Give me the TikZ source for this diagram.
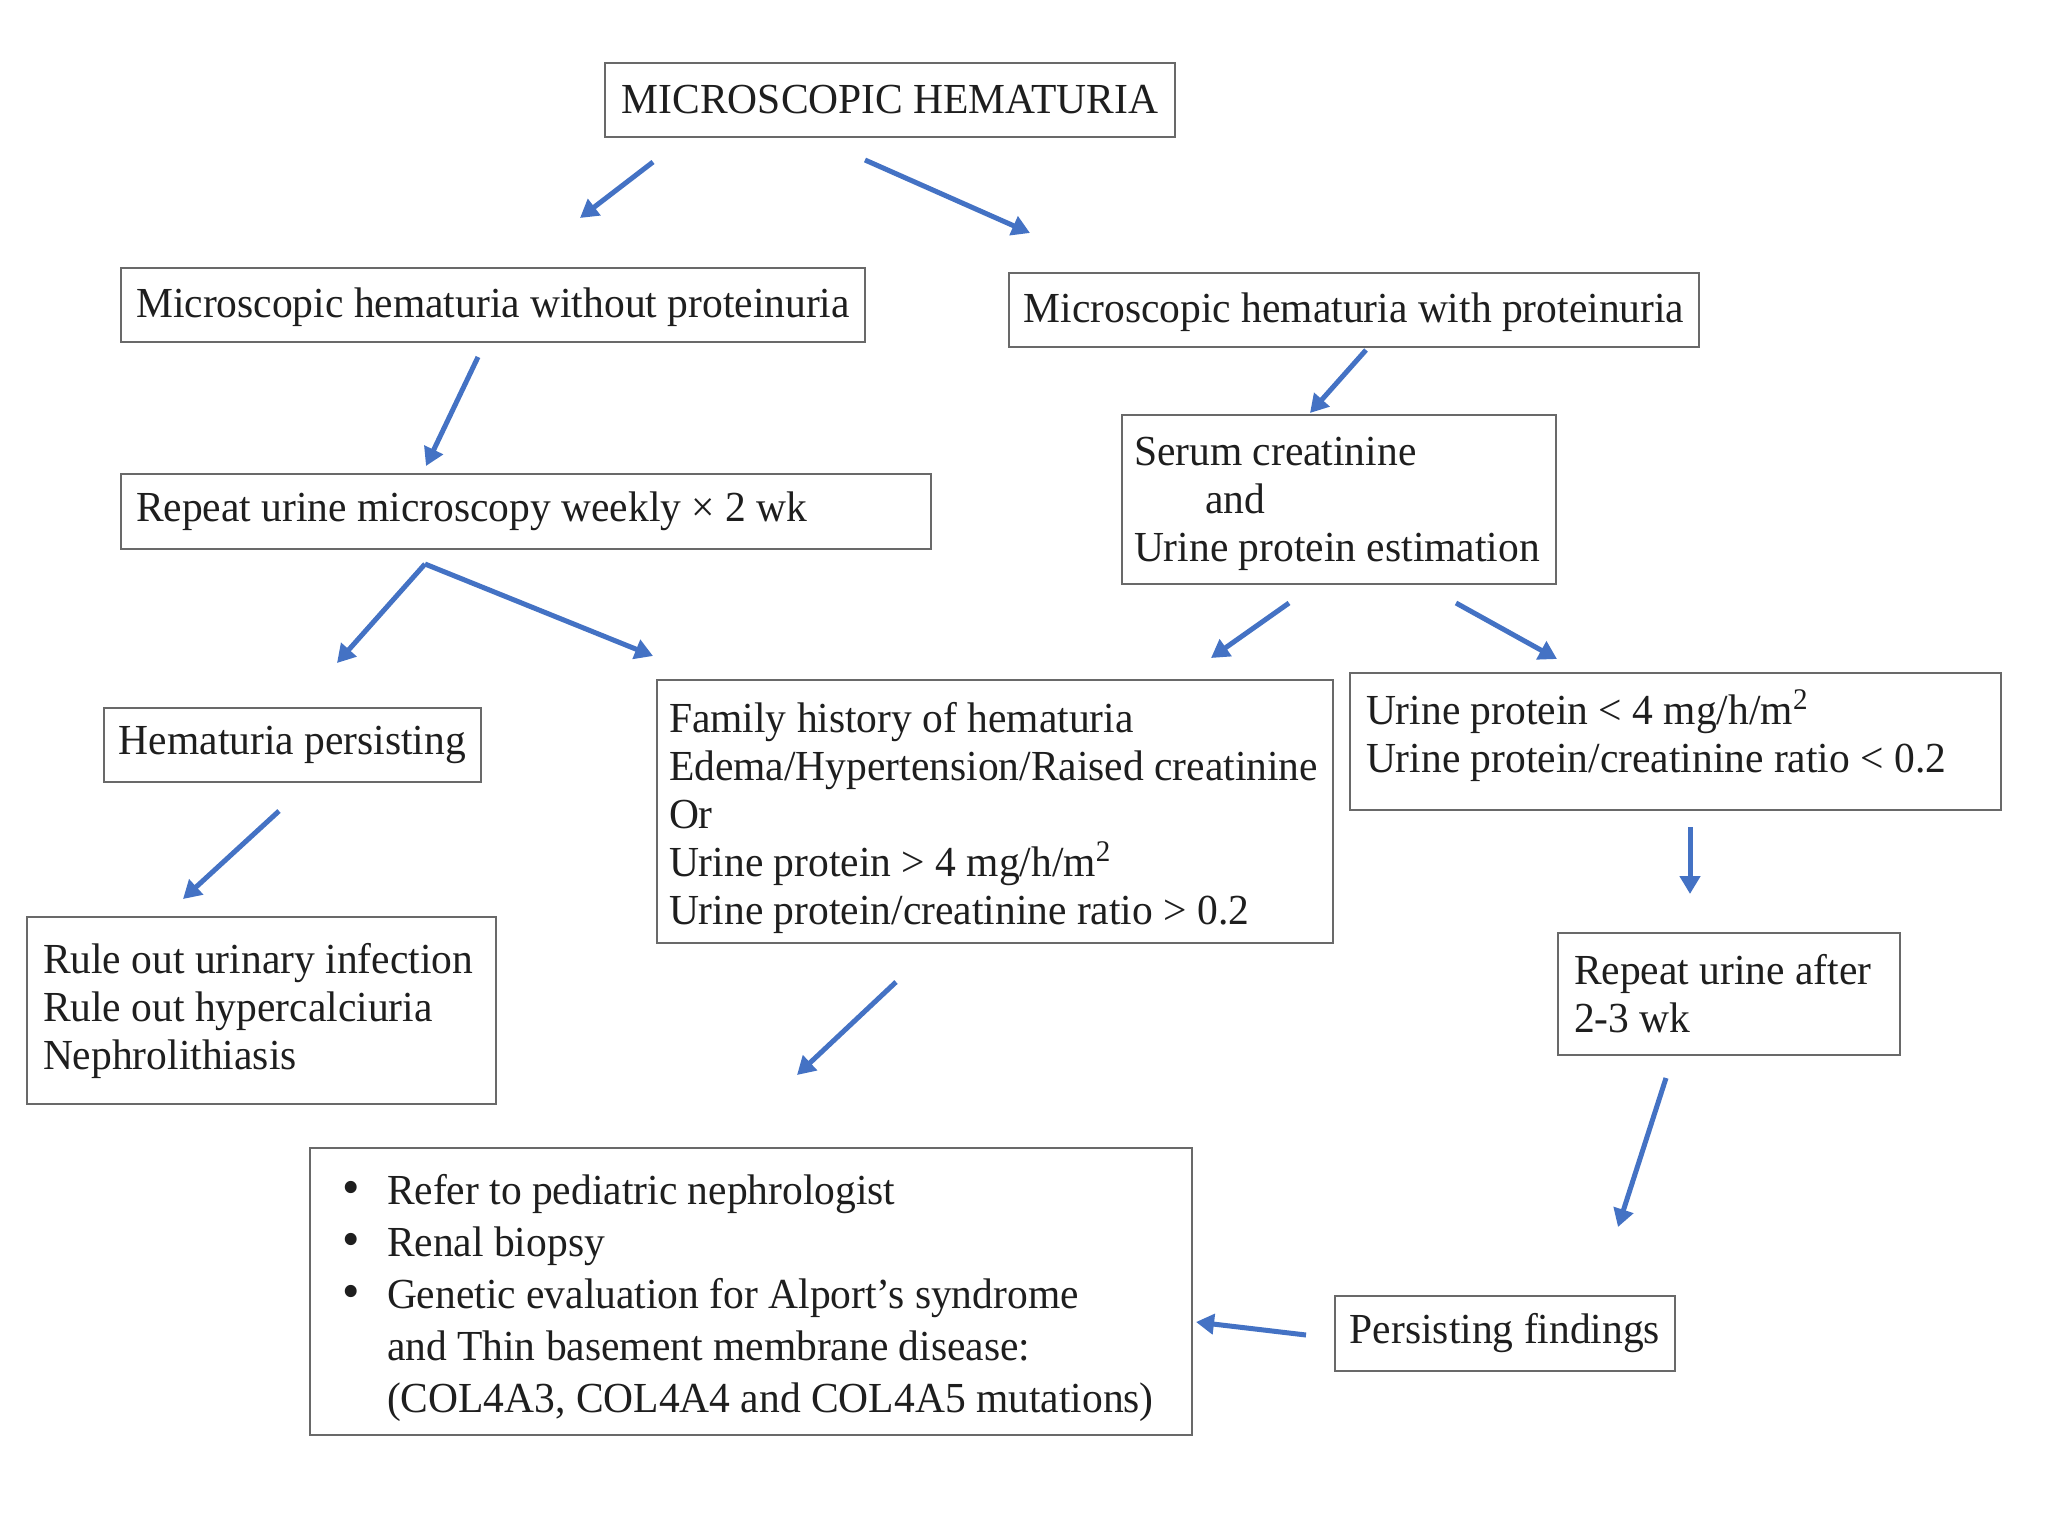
\documentclass[tikz,border=0pt]{standalone}
\usepackage{fontspec}
\setmainfont{Liberation Serif}[FakeStretch=0.97]
\usetikzlibrary{arrows.meta}
\definecolor{arrowblue}{RGB}{68,114,196}
\definecolor{boxline}{RGB}{105,105,105}
\definecolor{txt}{RGB}{30,30,30}
\newcommand{\bul}{\makebox[22.5pt][l]{\scalebox{1.2}{\textbullet}}}
\begin{document}
\begin{tikzpicture}[x=0.5pt,y=-0.5pt,
  box/.style={draw=boxline, line width=1pt, rectangle, inner xsep=7.5pt, inner ysep=0pt,
    font=\fontsize{21.4}{24}\selectfont, text=txt, align=flush left},
  cbox/.style={box, align=center},
  flow/.style={draw=arrowblue, line width=2.5pt, -{Triangle[length=9pt,width=10pt]}}]
\useasboundingbox (0,0) rectangle (2048,1536);
\fill[white] (0,0) rectangle (2048,1536);

% boxes
\node[cbox, minimum width=285pt, minimum height=37pt] (mh) at (890,100) {MICROSCOPIC HEMATURIA};
\node[cbox, minimum width=372pt, minimum height=37pt] (wo) at (493,305) {\rule{0pt}{17pt}Microscopic hematuria without proteinuria};
\node[cbox, minimum width=344pt, minimum height=37pt] (wp) at (1354,310) {\rule{0pt}{17pt}Microscopic hematuria with proteinuria};
\node[box, text width=390pt, minimum height=37.5pt] (rep) at (526,511.5) {Repeat urine microscopy weekly × 2 wk};
\node[box, inner xsep=6pt, text width=205pt, minimum height=84.5pt] (sc) at (1339,499.5)
  {\rule{0pt}{18.5pt}Serum creatinine\\\hspace*{35.5pt}and\\Urine protein estimation};
\node[cbox, minimum width=186.5pt, minimum height=37pt] (hp) at (292.5,745) {Hematuria persisting};
\node[box, inner xsep=6pt, text width=326pt, minimum height=131.5pt] (fh) at (995,811.5)
  {\rule{0pt}{21.5pt}Family history of hematuria\\Edema/Hypertension/Raised creatinine\\Or\\Urine protein > 4 mg/h/m\textsuperscript{2}\\Urine protein/creatinine ratio > 0.2};
\node[box, inner xsep=8pt, text width=309.5pt, minimum height=68.5pt] (lo) at (1675.5,741.5)
  {Urine protein < 4 mg/h/m\textsuperscript{2}\\Urine protein/creatinine ratio < 0.2\rule[-10pt]{0pt}{1pt}};
\node[box, inner xsep=8pt, text width=218.5pt, minimum height=93.5pt] (ro) at (261.5,1010.5)
  {Rule out urinary infection\\Rule out hypercalciuria\\Nephrolithiasis\rule[-4pt]{0pt}{1pt}};
\node[box, inner xsep=8pt, text width=155pt, minimum height=61pt] (ra) at (1729,994)
  {Repeat urine after\\2-3 wk};
\node[box, inner xsep=16pt, text width=409pt, minimum height=143.5pt,
  font=\fontsize{21.4}{26}\selectfont] (ref) at (751,1291.5)
  {\rule{0pt}{21.5pt}\bul Refer to pediatric nephrologist\\
   \bul Renal biopsy\\
   \bul Genetic evaluation for Alport’s syndrome\\
   \hspace*{22.5pt}and Thin basement membrane disease:\\
   \hspace*{22.5pt}(COL4A3, COL4A4 and COL4A5 mutations)};
\node[cbox, minimum width=169pt, minimum height=37.5pt] (pf) at (1505,1333.5) {Persisting findings};

% arrow end points
\coordinate (a1s) at (653,162);  \coordinate (a1e) at (580,218);
\coordinate (a2s) at (865,160);  \coordinate (a2e) at (1030,233);
\coordinate (a3s) at (478,357);  \coordinate (a3e) at (426,466);
\coordinate (a4s) at (1366,350); \coordinate (a4e) at (1310,413);
\coordinate (a5s) at (425,564);  \coordinate (a5l) at (337,663); \coordinate (a5r) at (653,656);
\coordinate (a6s) at (1289,603); \coordinate (a6e) at (1211,658);
\coordinate (a7s) at (1456,603); \coordinate (a7e) at (1557,659);
\coordinate (a8s) at (279,811);  \coordinate (a8e) at (183,899);
\coordinate (a9s) at (1690,827); \coordinate (a9e) at (1690,894);
\coordinate (a10s) at (896,982); \coordinate (a10e) at (797,1075);
\coordinate (a11s) at (1666,1078); \coordinate (a11e) at (1618,1227);
\coordinate (a12s) at (1306,1335); \coordinate (a12e) at (1196,1322);

% arrows
\draw[flow] (a1s) -- (a1e);
\draw[flow] (a2s) -- (a2e);
\draw[flow] (a3s) -- (a3e);
\draw[flow] (a4s) -- (a4e);
\draw[flow] (a5s) -- (a5l);
\draw[flow] (a5s) -- (a5r);
\draw[flow] (a6s) -- (a6e);
\draw[flow] (a7s) -- (a7e);
\draw[flow] (a8s) -- (a8e);
\draw[flow] (a9s) -- (a9e);
\draw[flow] (a10s) -- (a10e);
\draw[flow] (a11s) -- (a11e);
\draw[flow] (a12s) -- (a12e);
\end{tikzpicture}
\end{document}
